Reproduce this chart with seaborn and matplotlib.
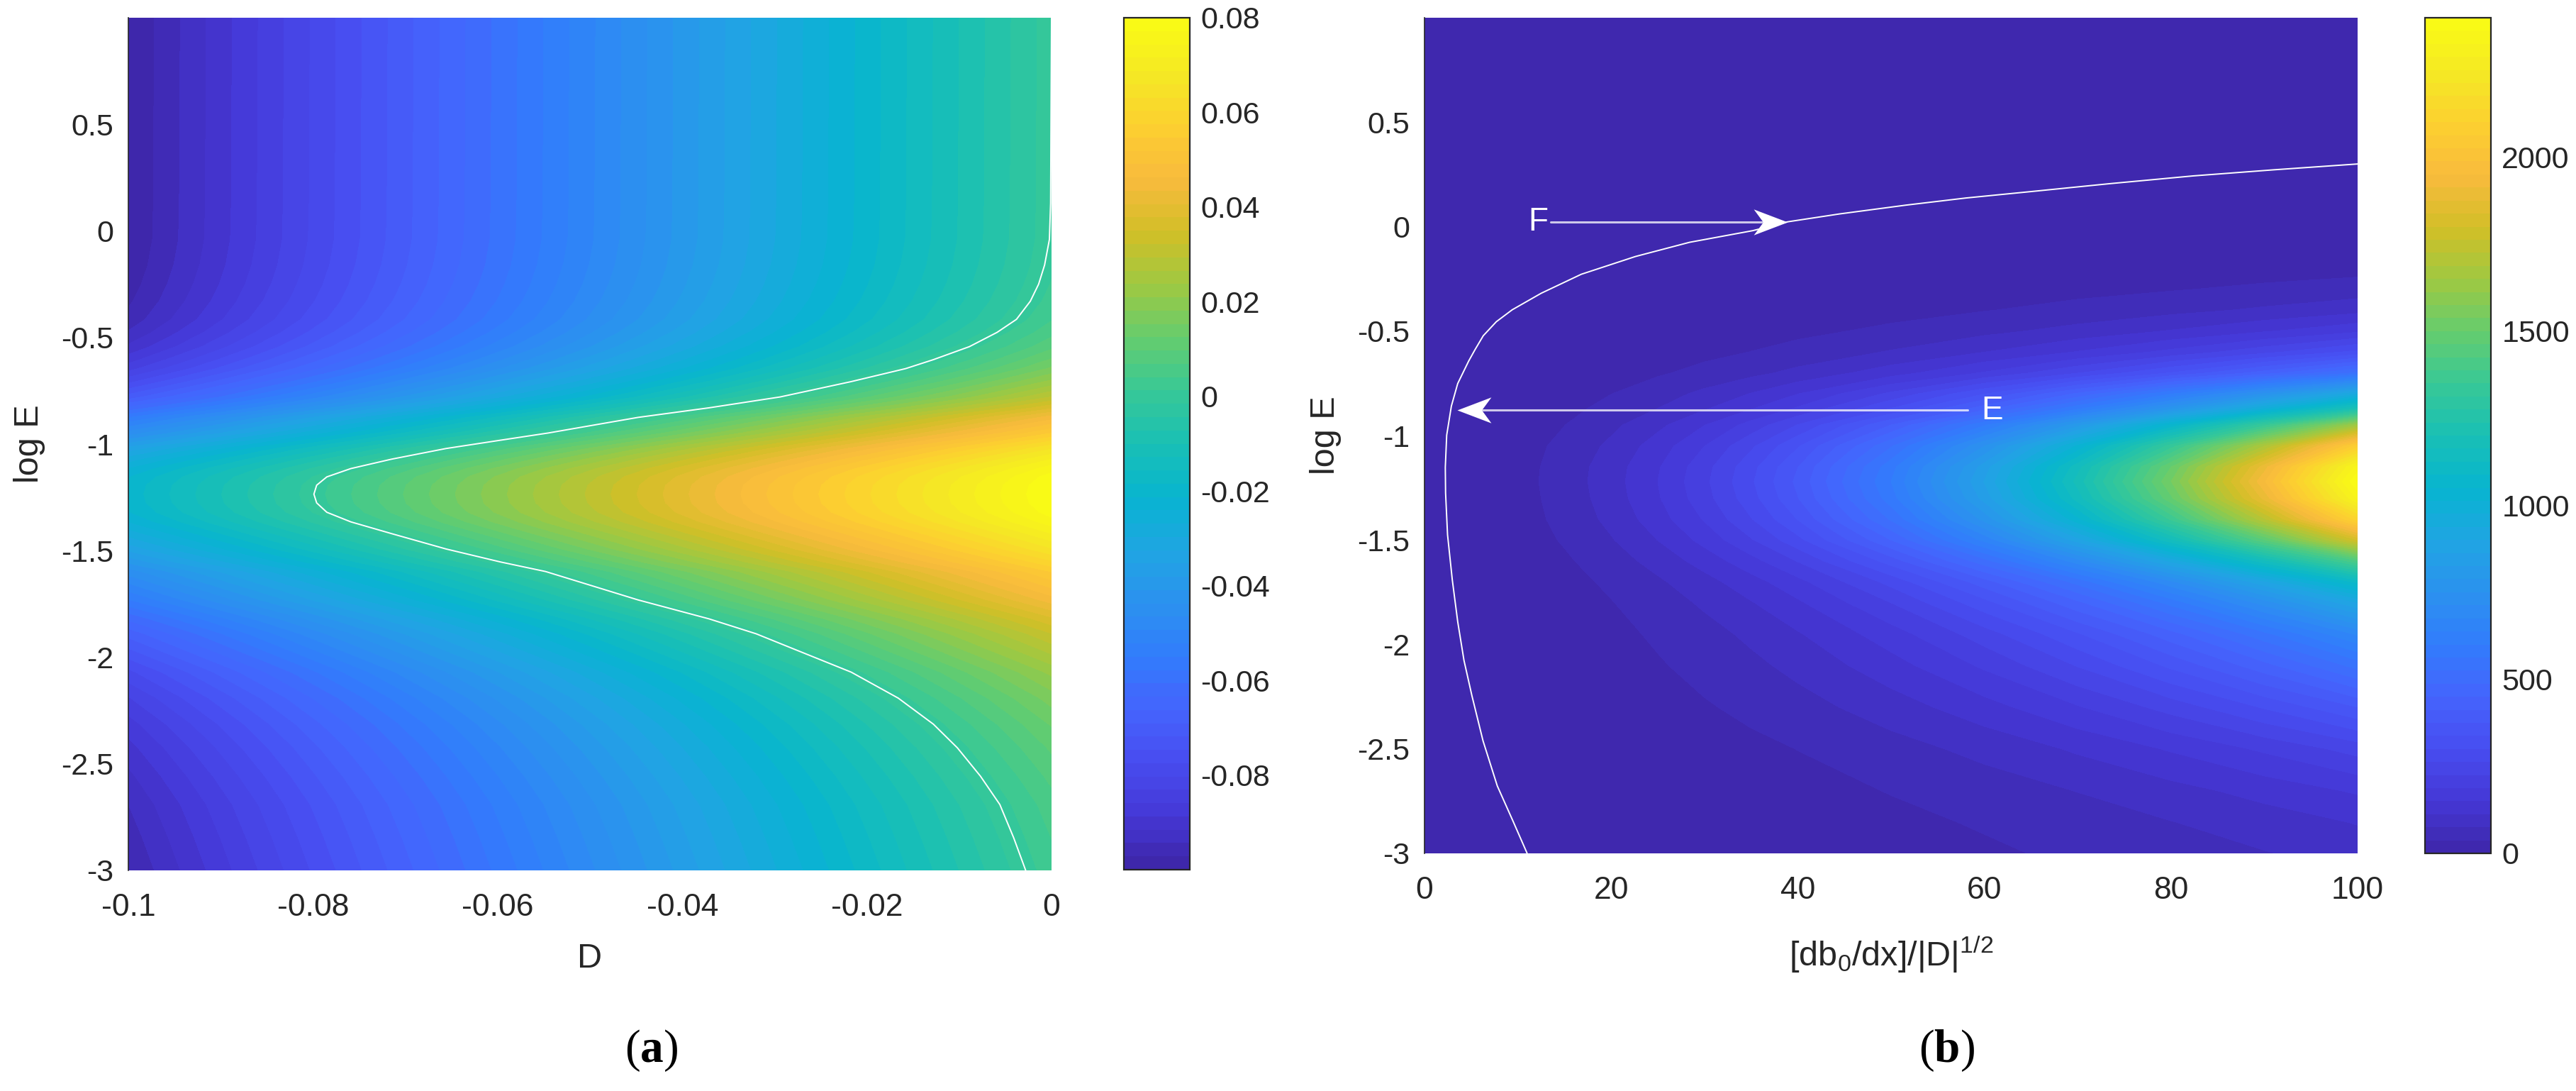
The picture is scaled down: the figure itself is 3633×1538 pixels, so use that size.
import numpy as np
import matplotlib
matplotlib.use('Agg')
import matplotlib.pyplot as plt
from matplotlib.path import Path
import seaborn as sns

sns.set_theme(style='white')
plt.rcParams['font.family'] = ['Liberation Sans', 'DejaVu Sans']
plt.rcParams['mathtext.fontset'] = 'custom'
plt.rcParams['mathtext.bf'] = 'Liberation Serif:bold'
plt.rcParams['mathtext.rm'] = 'Liberation Sans'
plt.rcParams['mathtext.default'] = 'regular'

W, H = 3633, 1538
TEXT = '#262626'

# colormap anchors
parula = [(.2422, .1504, .6603), (.2706, .2147, .8364), (.2813, .3006, .9414),
          (.2699, .3892, .9906), (.1963, .4847, .9892), (.1687, .5703, .9359),
          (.1248, .6459, .8883), (.0297, .7082, .8163), (.0964, .7500, .7120),
          (.2161, .7843, .5923), (.3909, .8029, .4354), (.6174, .7876, .2612),
          (.8203, .7498, .1535), (.9728, .7307, .2394), (.9892, .8136, .1885),
          (.9597, .9135, .1423), (.9769, .9839, .0805)]

# panel a
d_grid = [-0.1, -0.075, -0.05, -0.025, 0]
log_e_a = [1.0, 0.13, -0.04, -0.16, -0.25, -0.33, -0.415, -0.476, -0.543, -0.604, -0.646, -0.707,
           -0.779, -0.83, -0.875, -0.948, -0.982, -1.021, -1.071, -1.115, -1.154, -1.193, -1.235,
           -1.276, -1.32, -1.365, -1.42, -1.492, -1.553, -1.598, -1.731, -1.82, -1.89, -1.96,
           -2.07, -2.192, -2.314, -2.425, -2.558, -2.691, -2.847, -3.0]
field_a = [
    [-.1, -.075, -.05, -.025, 0],
    [-.0999, -.0749, -.0499, -.0249, .0001],
    [-.0998, -.0748, -.0498, -.0248, .0002],
    [-.0993, -.0743, -.0493, -.0243, .0007],
    [-.0986, -.0736, -.0486, -.0236, .0014],
    [-.0977, -.0727, -.0477, -.0227, .0023],
    [-.0962, -.0712, -.0462, -.0212, .0038],
    [-.0941, -.0691, -.0441, -.0191, .0059],
    [-.0911, -.0661, -.0411, -.0161, .0089],
    [-.0872, -.0622, -.0372, -.0122, .0128],
    [-.0842, -.0592, -.0342, -.0092, .0158],
    [-.0783, -.0533, -.0283, -.0033, .0217],
    [-.0706, -.0456, -.0206, .0044, .0294],
    [-.0629, -.0379, -.0129, .0121, .0371],
    [-.0552, -.0302, -.0052, .0198, .0448],
    [-.0455, -.0205, .0045, .0295, .0545],
    [-.0403, -.0153, .0097, .0347, .0597],
    [-.0344, -.0094, .0156, .0406, .0656],
    [-.0285, -.0035, .0215, .0465, .0715],
    [-.0241, .0009, .0259, .0509, .0759],
    [-.0215, .0035, .0285, .0535, .0785],
    [-.0204, .0046, .0296, .0546, .0796],
    [-.0201, .0049, .0299, .0549, .0799],
    [-.0204, .0046, .0296, .0546, .0796],
    [-.0215, .0035, .0285, .0535, .0785],
    [-.0241, .0009, .0259, .0509, .0759],
    [-.0285, -.0035, .0215, .0465, .0715],
    [-.0344, -.0094, .0156, .0406, .0656],
    [-.0403, -.0153, .0097, .0347, .0597],
    [-.0452, -.0202, .0048, .0298, .0548],
    [-.0552, -.0302, -.0052, .0198, .0448],
    [-.0629, -.0379, -.0129, .0121, .0371],
    [-.068, -.043, -.018, .007, .032],
    [-.072, -.047, -.022, .003, .028],
    [-.0783, -.0533, -.0283, -.0033, .0217],
    [-.0834, -.0584, -.0334, -.0084, .0166],
    [-.0872, -.0622, -.0372, -.0122, .0128],
    [-.0898, -.0648, -.0398, -.0148, .0102],
    [-.0923, -.0673, -.0423, -.0173, .0077],
    [-.0944, -.0694, -.0444, -.0194, .0056],
    [-.0959, -.0709, -.0459, -.0209, .0041],
    [-.0972, -.0722, -.0472, -.0222, .0028],
]
curve_a_d = [0, -0.0001, -0.00023, -0.00075, -0.0014, -0.0023, -0.0038, -0.0059, -0.0089, -0.0128,
             -0.0158, -0.0217, -0.0294, -0.0371, -0.0448, -0.0545, -0.0597, -0.0656, -0.0715,
             -0.0759, -0.0785, -0.0796, -0.0799, -0.0796, -0.0785, -0.0759, -0.0715, -0.0656,
             -0.0597, -0.0548, -0.0448, -0.0371, -0.032, -0.028, -0.0217, -0.0166, -0.0128,
             -0.0102, -0.0077, -0.0056, -0.0041, -0.0028]
curve_a_e = log_e_a
x_ticks_a = [-0.1, -0.08, -0.06, -0.04, -0.02, 0]
x_labels_a = ['-0.1', '-0.08', '-0.06', '-0.04', '-0.02', '0']
cbar_ticks_a = [-0.08, -0.06, -0.04, -0.02, 0, 0.02, 0.04, 0.06, 0.08]
cbar_labels_a = ['-0.08', '-0.06', '-0.04', '-0.02', '0', '0.02', '0.04', '0.06', '0.08']

# panel b
x_grid = [0, 10, 15, 20, 25, 30, 35, 40, 50, 60, 70, 80, 90, 100]
log_e_b = [1.0, 0.4, 0.0, -0.2, -0.3, -0.4, -0.5, -0.6, -0.7, -0.8, -0.87, -0.95, -1.05, -1.15,
           -1.22, -1.3, -1.4, -1.5, -1.6, -1.7, -1.8, -1.95, -2.1, -2.3, -2.5, -2.7, -2.85, -3.0]
field_b = [
    [0, 0, 0, 0, 0, 0, 0, 0, 0, 0, 0, 0, 0, 0],
    [0, 0, 0, 0, 0, 0, 0, 0, 0, 0, 0, 0, 0, 0],
    [0, 0, 0, 0, 0, 0, 1, 1, 1, 2, 2, 3, 4, 5],
    [0, 0, 1, 1, 2, 2, 3, 4, 6, 9, 12, 16, 20, 25],
    [0, 1, 1, 2, 3, 5, 7, 9, 14, 20, 27, 35, 45, 55],
    [0, 1, 2, 4, 6, 9, 12, 16, 25, 36, 49, 64, 81, 100],
    [0, 2, 4, 7, 11, 16, 22, 29, 45, 65, 88, 115, 146, 180],
    [0, 3, 7, 12, 19, 28, 38, 50, 78, 112, 152, 198, 251, 310],
    [0, 5, 12, 21, 33, 48, 65, 85, 133, 191, 260, 339, 429, 530],
    [0, 9, 21, 37, 58, 84, 114, 149, 233, 335, 456, 595, 753, 930],
    [0, 12, 27, 48, 75, 108, 147, 192, 300, 432, 588, 768, 972, 1200],
    [0, 17, 37, 66, 103, 149, 202, 264, 413, 594, 809, 1056, 1337, 1650],
    [0, 21, 47, 83, 130, 187, 255, 333, 520, 749, 1019, 1331, 1685, 2080],
    [0, 23, 53, 94, 146, 211, 287, 374, 585, 842, 1147, 1498, 1895, 2340],
    [0, 24, 54, 96, 150, 216, 294, 384, 600, 864, 1176, 1536, 1944, 2400],
    [0, 23, 52, 93, 146, 210, 285, 373, 583, 839, 1142, 1491, 1887, 2330],
    [0, 21, 48, 85, 133, 191, 260, 339, 530, 763, 1039, 1357, 1717, 2120],
    [0, 18, 41, 72, 113, 162, 221, 288, 450, 648, 882, 1152, 1458, 1800],
    [0, 14, 32, 57, 89, 128, 174, 227, 355, 511, 696, 909, 1150, 1420],
    [0, 11, 25, 44, 69, 99, 135, 176, 275, 396, 539, 704, 891, 1100],
    [0, 9, 20, 36, 56, 81, 110, 144, 225, 324, 441, 576, 729, 900],
    [0, 7, 15, 27, 43, 61, 83, 109, 170, 245, 333, 435, 551, 680],
    [0, 5, 12, 22, 34, 49, 66, 86, 135, 194, 265, 346, 437, 540],
    [0, 4, 8, 15, 23, 34, 46, 60, 94, 135, 184, 240, 304, 375],
    [0, 2, 5, 10, 15, 22, 29, 38, 60, 86, 118, 154, 194, 240],
    [0, 2, 3, 6, 10, 14, 19, 25, 39, 56, 76, 99, 126, 155],
    [0, 1, 3, 5, 7, 10, 14, 18, 29, 41, 56, 74, 93, 115],
    [0, 1, 2, 4, 6, 8, 11, 14, 22, 32, 44, 58, 73, 90],
]
curve_b_x = [11.0, 9.49, 7.8, 6.27, 5.08, 4.23, 3.56, 2.98, 2.47, 2.26, 2.23, 2.38, 2.88, 3.56, 4.74, 5.4,
             6.3, 7.7, 9.4, 12.5, 16.8, 22.6, 28.4, 35.2, 38.9, 44.5, 51.6, 58.0, 64.8, 73.5, 82.4, 91.0, 100]
curve_b_e = [-3.0, -2.846, -2.677, -2.461, -2.245, -2.076, -1.891, -1.691, -1.475, -1.275, -1.152, -0.998,
             -0.859, -0.751, -0.643, -0.59, -0.522, -0.455, -0.398, -0.319, -0.228, -0.143, -0.075, -0.019,
             0.023, 0.061, 0.103, 0.137, 0.167, 0.206, 0.243, 0.272, 0.30]
x_ticks_b = [0, 20, 40, 60, 80, 100]
x_labels_b = ['0', '20', '40', '60', '80', '100']
cbar_ticks_b = [0, 500, 1000, 1500, 2000]
cbar_labels_b = ['0', '500', '1000', '1500', '2000']

y_ticks = [-3, -2.5, -2, -1.5, -1, -0.5, 0, 0.5]
y_labels = ['-3', '-2.5', '-2', '-1.5', '-1', '-0.5', '0', '0.5']

cmap = sns.blend_palette(parula, 64, as_cmap=True)


def px_axes(fig, left, top, right, bottom):
    return fig.add_axes([left / W, 1 - bottom / H, (right - left) / W, (bottom - top) / H])


def panel(fig, box, cbox, x, y, z, levels, curve_x, curve_y, xlim, xt, xl, ct, cl, xlabel, xpad, tag, tag_x):
    ax = px_axes(fig, *box)
    cax = px_axes(fig, *cbox)
    cf = ax.contourf(x, y, np.array(z), levels=levels, cmap=cmap)
    sns.lineplot(x=curve_x, y=curve_y, sort=False, estimator=None, color='white', lw=1.4, ax=ax)
    ax.set_xlim(*xlim)
    ax.set_ylim(-3, 1)
    ax.set_xticks(xt, xl)
    ax.set_yticks(y_ticks, y_labels)
    ax.tick_params(axis='x', length=0, labelsize=32, labelcolor=TEXT, pad=23)
    ax.tick_params(axis='y', length=0, labelsize=31, labelcolor=TEXT, pad=15)
    ax.set_xlabel(xlabel, fontsize=35, color=TEXT, labelpad=xpad)
    ax.set_ylabel('log E', fontsize=35, color=TEXT, labelpad=16)
    for name, s in ax.spines.items():
        s.set_visible(name == 'left')
    ax.spines['left'].set_color(TEXT)
    ax.spines['left'].set_linewidth(1.2)
    cb = fig.colorbar(cf, cax=cax)
    cb.set_ticks(ct, labels=cl)
    cb.ax.tick_params(direction='in', length=9, width=1.1, color=TEXT, labelsize=31,
                      labelcolor=TEXT, pad=11, right=True)
    cb.outline.set_edgecolor(TEXT)
    cb.outline.set_linewidth(1.6)
    fig.text(tag_x / W, 1 - 1481 / H, tag, fontsize=47, family='Liberation Serif', color='black',
             ha='center', va='center')
    return ax


fig = plt.figure(figsize=(W / 100, H / 100), dpi=100)

panel(fig, (181, 25, 1483, 1227), (1585, 25, 1678, 1226), d_grid, log_e_a, field_a,
      np.linspace(-0.1, 0.08, 65), curve_a_d, curve_a_e, (-0.1, 0), x_ticks_a, x_labels_a,
      cbar_ticks_a, cbar_labels_a, 'D', 21, r'($\mathbf{a}$)', 919)

ax_b = panel(fig, (2009, 25, 3325, 1203), (3420, 25, 3513, 1203), x_grid, log_e_b, field_b,
             np.linspace(0, 2400, 65), curve_b_x, curve_b_e, (0, 100), x_ticks_b, x_labels_b,
             cbar_ticks_b, cbar_labels_b, r'[db$_0$/dx]/|D|$^{1/2}$', 30, r'($\mathbf{b}$)', 2745)

# arrows with notched heads
head_r = Path([(0, 0), (-1, 0.38), (-0.72, 0), (-1, -0.38), (0, 0)])
head_l = Path([(0, 0), (1, 0.38), (0.72, 0), (1, -0.38), (0, 0)])
ax_b.plot([13.5, 37], [0.023, 0.023], color='white', lw=2.2, alpha=0.75)
ax_b.plot([38.9], [0.023], marker=head_r, ms=69, mfc='white', mew=0, color='white')
ax_b.plot([58.2, 5], [-0.877, -0.877], color='white', lw=2.2, alpha=0.75)
ax_b.plot([3.46], [-0.877], marker=head_l, ms=69, mfc='white', mew=0, color='white')
ax_b.text(12.2, 0.023, 'F', color='white', fontsize=33, ha='center', va='center')
ax_b.text(60.8, -0.88, 'E', color='white', fontsize=33, ha='center', va='center')

fig.savefig('out.png', dpi=100)
